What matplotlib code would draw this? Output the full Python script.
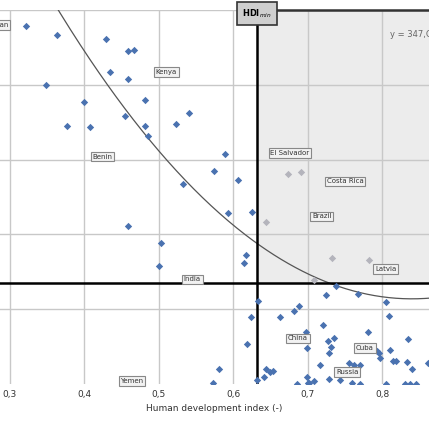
import matplotlib
matplotlib.use("Agg")
import matplotlib.pyplot as plt
import numpy as np

hdi_blue = [0.322,0.363,0.429,0.458,0.466,0.434,0.459,0.348,0.400,0.482,0.454,0.541,0.376,0.408,0.482,0.523,0.486,
            0.589,0.574,0.533,0.607,0.593,0.625,0.459,0.503,0.500,0.617,0.615,0.738,0.725,0.768,0.633,0.624,0.689,
            0.681,0.663,0.805,0.809,0.720,0.736,0.727,0.698,0.699,0.729,0.732,0.781,0.835,0.796,0.810,0.814,0.818,
            0.834,0.840,0.861,0.619,0.716,0.756,0.762,0.770,0.762,0.581,0.644,0.653,0.650,0.641,0.632,0.573,0.686,
            0.699,0.702,0.708,0.701,0.729,0.744,0.759,0.770,0.805,0.831,0.838,0.846,0.793,0.797]
y_blue = [4.79,4.66,4.61,4.45,4.47,4.17,4.08,4.00,3.77,3.80,3.58,3.62,3.45,3.44,3.45,3.48,3.32,
          3.07,2.85,2.68,2.73,2.28,2.30,2.11,1.88,1.58,1.72,1.62,1.31,1.19,1.20,1.11,0.90,1.04,
          0.97,0.89,1.10,0.91,0.79,0.62,0.57,0.69,0.48,0.41,0.49,0.70,0.60,0.42,0.46,0.31,0.31,
          0.29,0.20,0.28,0.53,0.26,0.28,0.25,0.26,0.17,0.20,0.20,0.17,0.16,0.09,0.06,0.01,0.00,
          0.09,0.02,0.04,0.01,0.07,0.06,0.01,0.00,0.00,0.00,0.00,0.00,0.44,0.35]
hdi_grey = [0.674,0.691,0.644,0.733,0.783,0.709]
y_grey = [2.81,2.83,2.16,1.68,1.66,1.39]

labels = ["Japan","Kenya","Benin","El Salvador","Costa Rica","Brazil","Latvia","India","China","Cuba","Russia","Yemen","UK"]
lab_x = [0.285,0.510,0.424,0.676,0.750,0.719,0.805,0.545,0.687,0.777,0.753,0.464,0.875]
lab_y = [4.80,4.17,3.04,3.09,2.71,2.24,1.54,1.40,0.61,0.48,0.16,0.04,0.15]

trend_coef = [17.1,-28.73,13.206]
hdi_min = 0.632
y_thr = 1.35

fig = plt.figure(figsize=(4.29,4.29), dpi=100)
ax = fig.add_axes([0, 1-384/429, 1, 374/429])
xmin, xmax = 0.2866, 0.863
ax.set_xlim(xmin, xmax); ax.set_ylim(0, 5)
ax.fill_between([hdi_min, xmax], y_thr, 5, color="#ececec", zorder=0)
for gx in [0.3,0.4,0.5,0.6,0.7,0.8]:
    ax.axvline(gx, color="#c8c8c8", lw=1, zorder=1)
for gy in [1,2,3,4,5]:
    ax.axhline(gy, color="#c8c8c8", lw=1, zorder=1)
xx = np.linspace(xmin, xmax, 300)
ax.plot(xx, np.polyval(trend_coef, xx), color="#555555", lw=0.9, zorder=3)
ax.axhline(y_thr, color="black", lw=1.8, zorder=4)
ax.axvline(hdi_min, color="black", lw=1.8, zorder=4)
ax.plot([hdi_min, xmax], [5, 5], color="#333333", lw=1.8, zorder=4, clip_on=False)
ax.scatter(hdi_blue, y_blue, marker="D", s=14, color="#4a72b0", zorder=5, linewidths=0)
ax.scatter(hdi_grey, y_grey, marker="D", s=14, color="#b4b4bc", zorder=5, linewidths=0)
bbox = dict(boxstyle="square,pad=0.25", fc="#f2f2f2", ec="#888888", lw=0.8)
for t, x, y in zip(labels, lab_x, lab_y):
    ax.text(x, y, t, fontsize=5, ha="center", va="center", bbox=bbox, zorder=6, color="#333333")
ax.text(hdi_min, 4.95, "HDI$_{min}$", fontsize=6, fontweight="bold", ha="center", va="center", zorder=7,
        bbox=dict(boxstyle="square,pad=0.6", fc="#cfcfcf", ec="#333333", lw=1.2), clip_on=False)
ax.text(0.811, 4.67, "y = 347,C", fontsize=6, color="#666666", ha="left", va="center")
for s in ax.spines.values():
    s.set_visible(False)
ax.set_yticks([])
ax.set_xticks([0.3,0.4,0.5,0.6,0.7,0.8])
ax.set_xticklabels(["0,3","0,4","0,5","0,6","0,7","0,8"], fontsize=6.5, color="#333333")
ax.tick_params(axis="x", length=0, pad=4)
ax.set_xlabel("Human development index (-)", fontsize=6.5, color="#333333", labelpad=4)
fig.savefig("out.png", dpi=100)
